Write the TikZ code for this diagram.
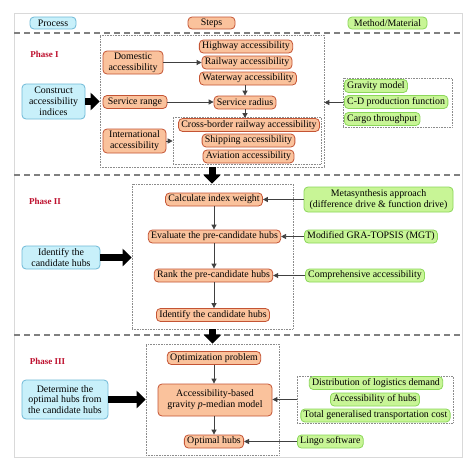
\documentclass[tikz,border=0pt]{standalone}
\usepackage{fontspec}
\setmainfont{Liberation Serif}
\usetikzlibrary{arrows.meta}
\definecolor{stepfill}{RGB}{250,194,156}
\definecolor{stepdraw}{RGB}{196,84,52}
\definecolor{methfill}{RGB}{200,245,150}
\definecolor{methdraw}{RGB}{140,215,90}
\definecolor{procfill}{RGB}{200,240,250}
\definecolor{procdraw}{RGB}{110,185,215}
\definecolor{phasered}{RGB}{190,16,46}
\begin{document}
\begin{tikzpicture}[x=1pt,y=-1pt,
  every node/.style={font=\fontsize{9.9}{10.8}\selectfont},
  base/.style={rounded corners=4pt, line width=0.8pt, inner xsep=2.8pt, inner ysep=1.5pt, minimum height=13pt, align=center},
  stepbox/.style={base, draw=stepdraw, fill=stepfill},
  methbox/.style={base, draw=methdraw, fill=methfill},
  procbox/.style={base, draw=procdraw, fill=procfill},
  grp/.style={draw=black!45, densely dotted, line width=0.6pt, inner sep=0pt},
  sepline/.style={draw=black!50, dash pattern=on 6pt off 4pt, line width=1.1pt},
  arr/.style={-{Triangle[length=5pt,width=5pt]}, draw=black!75, line width=0.8pt},
  fat/.style={-{Triangle[length=9pt,width=17pt]}, line width=7pt, draw=black},
  phase/.style={text=phasered, font=\fontsize{9}{10}\selectfont\bfseries},
]
\useasboundingbox (0,0) rectangle (474,474);
\fill[white] (0,0) rectangle (474,474);
\draw[black!15, line width=0.8pt] (14,13) rectangle (462,457);

% header
\node[procbox, minimum width=46pt, minimum height=12pt, inner ysep=0pt] (hproc) at (53,23) {Process};
\node[stepbox, minimum width=47pt, minimum height=12pt, inner ysep=0pt] (hstep) at (211.5,23) {Steps};
\node[methbox, minimum width=79pt, minimum height=12pt, inner ysep=0pt] (hmeth) at (387.5,23) {Method/Material};
\draw[sepline] (14,33) -- (462,33);
\draw[sepline] (14,175) -- (462,175);
\draw[sepline] (14,335) -- (462,335);

% ---------- Phase I
\node[phase] (ph1) at (44.5,54) {Phase I};
\node[grp, minimum width=224pt, minimum height=132pt] (box1) at (212,101) {};
\node[grp, minimum width=148pt, minimum height=47pt] (intlgrp) at (247,140.5) {};
\node[grp, minimum width=109pt, minimum height=49pt] (mgrp1) at (397.5,102.5) {};

\node[procbox, minimum width=63pt, minimum height=35pt] (proc1) at (53.5,101.5) {Construct\\accessibility\\indices};

\node[stepbox, minimum width=60pt, minimum height=23pt] (dom) at (133,62.5) {Domestic\\accessibility};
\node[stepbox, minimum width=64pt] (srange) at (135,102) {Service range};
\node[stepbox, minimum width=63pt, minimum height=24pt] (intl) at (134.5,141) {International\\accessibility};

\node[stepbox] (hw) at (246,46.5) {Highway accessibility};
\node[stepbox] (rw) at (247,62.5) {Railway accessibility};
\node[stepbox] (ww) at (248,78.5) {Waterway accessibility};
\node[stepbox] (srad) at (245,102.5) {Service radius};
\node[stepbox] (cb) at (249,125) {Cross-border railway accessibility};
\node[stepbox] (ship) at (248.5,140.5) {Shipping accessibility};
\node[stepbox] (avi) at (248.5,156.5) {Aviation accessibility};

\node[methbox, anchor=west] (grav) at (344,86) {Gravity model};
\node[methbox, anchor=west] (cd) at (344,102) {C-D production function};
\node[methbox, anchor=west] (cargo) at (344,119) {Cargo throughput};

\draw[fat] (proc1.east) -- (proc1.east -| box1.west);
\draw[arr] (dom.east) -- (dom.east -| rw.west);
\draw[arr] (srange.east) -- (srange.east -| srad.west);
\draw[arr] (intl.east) -- (intl.east -| intlgrp.west);
\draw[arr] (srad.north |- ww.south) -- (srad.north);
\draw[arr] (srad.south) -- (srad.south |- cb.north);
\draw[arr] (mgrp1.west) -- (mgrp1.west -| box1.east);

% ---------- Phase II
\node[phase] (ph2) at (45,201) {Phase II};
\node[grp, minimum width=161pt, minimum height=145pt] (box2) at (212.5,256.5) {};
\node[procbox, minimum width=78pt, minimum height=23pt] (proc2) at (61,257.5) {Identify the\\candidate hubs};

\node[stepbox] (calc) at (214,199.5) {Calculate index weight};
\node[stepbox] (eval) at (214.5,236.5) {Evaluate the pre-candidate hubs};
\node[stepbox] (rank) at (213.5,275.5) {Rank the pre-candidate hubs};
\node[stepbox] (ident) at (213,315) {Identify the candidate hubs};

\node[methbox, minimum width=149pt, minimum height=25pt] (meta) at (378.5,199.5) {Metasynthesis approach\\(difference drive \& function drive)};
\node[methbox, anchor=west] (mgt) at (304,236.5) {Modified GRA-TOPSIS (MGT)};
\node[methbox, anchor=west] (comp) at (305,275.5) {Comprehensive accessibility};

\draw[fat] (box1.south) -- (box1.south |- box2.north);
\draw[fat] (proc2.east) -- (proc2.east -| box2.west);
\draw[arr] (calc.south) -- (calc.south |- eval.north);
\draw[arr] (calc.south |- eval.south) -- (calc.south |- rank.north);
\draw[arr] (calc.south |- rank.south) -- (calc.south |- ident.north);
\draw[arr] (meta.west) -- (meta.west -| calc.east);
\draw[arr] (mgt.west) -- (mgt.west -| eval.east);
\draw[arr] (comp.west) -- (comp.west -| rank.east);

% ---------- Phase III
\node[phase] (ph3) at (47.5,361) {Phase III};
\node[grp, minimum width=133pt, minimum height=111pt] (box3) at (212.5,399.5) {};
\node[grp, minimum width=156pt, minimum height=47pt] (mgrp3) at (375,399.5) {};
\node[procbox, minimum width=86pt, minimum height=39pt] (proc3) at (65,399.5) {Determine the\\optimal hubs from\\the candidate hubs};

\node[stepbox] (opt) at (214,358) {Optimization problem};
\node[stepbox, minimum width=114pt, minimum height=32pt] (model) at (215,400) {Accessibility-based\\gravity \textit{p}-median model};
\node[stepbox] (hubs) at (214,441.5) {Optimal hubs};

\node[methbox] (dist) at (376,383) {Distribution of logistics demand};
\node[methbox] (acch) at (375,399.5) {Accessibility of hubs};
\node[methbox] (tgc) at (375.5,415.5) {Total generalised transportation cost};
\node[methbox, anchor=west] (lingo) at (297,441.5) {Lingo software};

\draw[fat] (box2.south) -- (box2.south |- box3.north);
\draw[fat] (proc3.east) -- (proc3.east -| box3.west);
\draw[arr] (opt.south) -- (opt.south |- model.north);
\draw[arr] (opt.south |- model.south) -- (opt.south |- hubs.north);
\draw[arr] (mgrp3.west) -- (mgrp3.west -| model.east);
\draw[arr] (lingo.west) -- (lingo.west -| hubs.east);
\end{tikzpicture}
\end{document}
